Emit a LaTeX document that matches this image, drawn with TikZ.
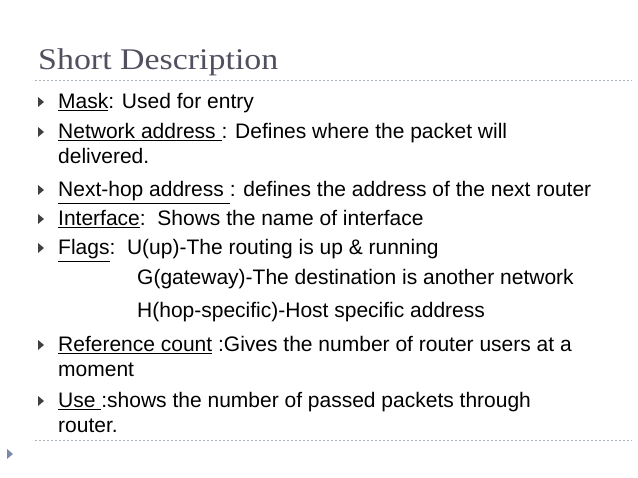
\documentclass[tikz,border=0pt]{standalone}
\usepackage{fontspec}
\setmainfont{Liberation Sans}
\newfontfamily\titlefont{Liberation Serif}
\definecolor{titlec}{RGB}{80,80,95}
\definecolor{linec}{RGB}{170,180,190}
\definecolor{tric}{RGB}{120,140,170}
\begin{document}
\begin{tikzpicture}[x=1pt,y=-1pt,
  txt/.style={anchor=base west,inner sep=0pt,font=\fontsize{21}{24}\selectfont,text=black},
  bul/.style={fill=black!75}]
\useasboundingbox (0,0) rectangle (638,478);
\node[anchor=base west,inner sep=0pt,font=\titlefont\fontsize{30}{32}\selectfont,text=titlec,xscale=1.13] (title) at (38,70) {Short Description};
\draw[linec,dashed,dash pattern=on 2pt off 2pt] (35,80) -- (632,80);
\draw[linec,dashed,dash pattern=on 2pt off 2pt] (35,440) -- (632,440);
\fill[tric] (7,449) -- (13,454) -- (7,459) -- cycle;
\foreach \y in {102,132,190,219,248,345,401}{
  \fill[black!75] (38,\y-5) -- (44,\y) -- (38,\y+5) -- cycle;}
\node[txt] (l1) at (58,109) {\underline{Mask}: Used for entry};
\node[txt] (l2) at (58,139) {\underline{Network address }: Defines where the packet will};
\node[txt] (l3) at (58,164) {delivered.};
\node[txt] (l4) at (58,197) {\underline{Next-hop address }: defines the address of the next router};
\node[txt] (l5) at (58,226) {\underline{Interface}:\ \ Shows the name of interface};
\node[txt] (l6) at (58,255) {\underline{Flags}:\ \ U(up)-The routing is up \& running};
\node[txt] (l7) at (137,285) {G(gateway)-The destination is another network};
\node[txt] (l8) at (137,318) {H(hop-specific)-Host specific address};
\node[txt] (l9) at (58,352) {\underline{Reference count} :Gives the number of router users at a};
\node[txt] (l10) at (58,377) {moment};
\node[txt] (l11) at (58,408) {\underline{Use }:shows the number of passed packets through};
\node[txt] (l12) at (58,433) {router.};
\end{tikzpicture}
\end{document}
